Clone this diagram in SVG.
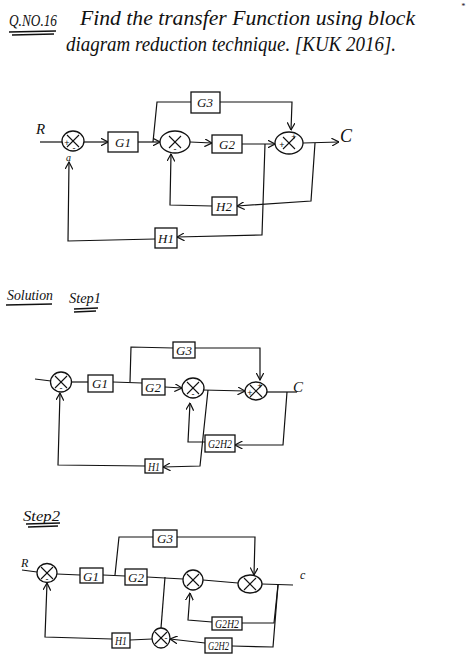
<svg xmlns="http://www.w3.org/2000/svg" width="474" height="657" viewBox="0 0 474 657">
<style>
.hw{font-family:"Liberation Serif","DejaVu Serif",serif;font-style:italic;fill:#111}
.lbl{font-family:"Liberation Serif","DejaVu Serif",serif;font-style:italic;fill:#111;font-size:13px;text-anchor:middle;dominant-baseline:central}
.sg{font-family:"Liberation Sans",sans-serif;fill:#111;font-size:9px;text-anchor:middle;dominant-baseline:central}
.box{fill:#fff;stroke:#111;stroke-width:1.3}
.sum{fill:#fff;stroke:#111;stroke-width:1.3}
.x{stroke:#111;stroke-width:1.1}
.w{fill:none;stroke:#111;stroke-width:1.2}
.ul{fill:none;stroke:#111;stroke-width:1.4}
</style>
<defs>
<marker id="ah" viewBox="0 0 8 8" refX="7.5" refY="4" markerWidth="8" markerHeight="8" markerUnits="userSpaceOnUse" orient="auto">
<path d="M0,0 L7.5,4 L0,8" fill="none" stroke="#111" stroke-width="1.2"/>
</marker>
<g id="xs"><line class="x" x1="-6" y1="-6" x2="6" y2="6"/><line class="x" x1="6" y1="-6" x2="-6" y2="6"/></g>
</defs>
<rect width="474" height="657" fill="#fff"/>

<!-- Title -->
<g id="title">
<text class="hw" x="9" y="26" font-size="17" textLength="48" lengthAdjust="spacingAndGlyphs">Q.NO.16</text>
<path class="ul" d="M9,32 L56,31 M12,35 L54,34"/>
<text class="hw" x="80" y="25" font-size="20" textLength="335" lengthAdjust="spacingAndGlyphs">Find the transfer Function using block</text>
<text class="hw" x="66" y="51" font-size="20" textLength="330" lengthAdjust="spacingAndGlyphs">diagram reduction technique. [KUK 2016].</text>
<text class="hw" x="461" y="9" font-size="8">*</text>
</g>

<!-- ===== Diagram 1 ===== -->
<g id="connectors1">
<polyline class="w" points="40,142 63,142"/>
<polyline class="w" points="84,142 108,142" marker-end="url(#ah)"/>
<polyline class="w" points="138,142 160,142" marker-end="url(#ah)"/>
<polyline class="w" points="153,142 157,102 191,102"/>
<polyline class="w" points="220,102 292,102 291,130" marker-end="url(#ah)"/>
<polyline class="w" points="190,142 212,143" marker-end="url(#ah)"/>
<polyline class="w" points="242,144 275,144" marker-end="url(#ah)"/>
<polyline class="w" points="265,144 262,235 177,237" marker-end="url(#ah)"/>
<polyline class="w" points="303,143 339,142" marker-end="url(#ah)"/>
<polyline class="w" points="315,143 311,201 237,206" marker-end="url(#ah)"/>
<polyline class="w" points="212,206 170,205 171,154" marker-end="url(#ah)"/>
<polyline class="w" points="155,239 68,241 69,162" marker-end="url(#ah)"/>
</g>
<g id="d1-R"><text class="hw" x="36" y="134" font-size="15">R</text></g>
<g id="d1-C"><text class="hw" x="340" y="142" font-size="18">C</text></g>
<g id="d1-S1"><ellipse class="sum" cx="73" cy="141" rx="11" ry="10"/><use href="#xs" x="73" y="141"/>
<text class="sg" x="67" y="143">+</text><text class="sg" x="74" y="148">-</text>
<text class="hw" x="66" y="161" font-size="10">a</text></g>
<g id="d1-G1"><rect class="box" x="108" y="132" width="30" height="20"/><text class="lbl" x="123" y="142">G1</text></g>
<g id="d1-S2"><ellipse class="sum" cx="175" cy="142" rx="15" ry="11"/><use href="#xs" x="175" y="142"/>
<text class="sg" x="175" y="149">-</text></g>
<g id="d1-G3"><rect class="box" x="191" y="92" width="29" height="21"/><text class="lbl" x="205" y="102">G3</text></g>
<g id="d1-G2"><rect class="box" x="212" y="135" width="30" height="18"/><text class="lbl" x="227" y="144">G2</text></g>
<g id="d1-S3"><ellipse class="sum" cx="289" cy="143" rx="14" ry="11"/><use href="#xs" x="289" y="143"/>
<text class="sg" x="282" y="145">+</text><text class="sg" x="294" y="137">+</text></g>
<g id="d1-H2"><rect class="box" x="212" y="197" width="25" height="18"/><text class="lbl" x="224" y="206" font-size="11">H2</text></g>
<g id="d1-H1"><rect class="box" x="155" y="228" width="22" height="20"/><text class="lbl" x="166" y="238">H1</text></g>

<!-- Headings -->
<g id="sol">
<text class="hw" x="7" y="300" font-size="14" textLength="46" lengthAdjust="spacingAndGlyphs">Solution</text>
<path class="ul" d="M6,305 L52,304"/>
<text class="hw" x="69" y="303" font-size="14" textLength="32" lengthAdjust="spacingAndGlyphs">Step1</text>
<path class="ul" d="M74,309 L98,308 M74,312 L96,311"/>
</g>

<!-- ===== Diagram 2 ===== -->
<g id="connectors2">
<polyline class="w" points="35,379 51,381"/>
<polyline class="w" points="72,382 88,382"/>
<polyline class="w" points="113,382 142,383"/>
<polyline class="w" points="130,382 131,347 173,348"/>
<polyline class="w" points="195,348 260,348 260,380" marker-end="url(#ah)"/>
<polyline class="w" points="165,387 182,388" marker-end="url(#ah)"/>
<polyline class="w" points="203,390 245,391" marker-end="url(#ah)"/>
<polyline class="w" points="208,390 200,466 163,467" marker-end="url(#ah)"/>
<polyline class="w" points="267,392 297,392"/>
<polyline class="w" points="287,392 283,445 235,445" marker-end="url(#ah)"/>
<polyline class="w" points="205,442 188,442 190,403" marker-end="url(#ah)"/>
<polyline class="w" points="145,466 58,465 60,393" marker-end="url(#ah)"/>
</g>
<g id="d2-C"><text class="hw" x="293" y="392" font-size="15">C</text></g>
<g id="d2-S1"><ellipse class="sum" cx="61" cy="382" rx="10.5" ry="10"/><use href="#xs" x="61" y="382"/><text class="sg" x="61" y="388">-</text></g>
<g id="d2-G1"><rect class="box" x="88" y="375" width="25" height="17"/><text class="lbl" x="100" y="383" font-size="11">G1</text></g>
<g id="d2-G3"><rect class="box" x="173" y="342" width="22" height="16"/><text class="lbl" x="184" y="350" font-size="11">G3</text></g>
<g id="d2-G2"><rect class="box" x="142" y="379" width="23" height="16"/><text class="lbl" x="153" y="387" font-size="11">G2</text></g>
<g id="d2-S2"><ellipse class="sum" cx="193" cy="388" rx="11" ry="10"/><use href="#xs" x="193" y="388"/><text class="sg" x="193" y="394">-</text></g>
<g id="d2-S3"><ellipse class="sum" cx="256" cy="391" rx="11" ry="9"/><use href="#xs" x="256" y="391"/>
<text class="sg" x="250" y="393">+</text><text class="sg" x="260" y="386">+</text></g>
<g id="d2-G2H2"><rect class="box" x="205" y="435" width="30" height="17"/><text class="lbl" x="220" y="443" font-size="10" textLength="24" lengthAdjust="spacingAndGlyphs">G2H2</text></g>
<g id="d2-H1"><rect class="box" x="145" y="459" width="18" height="14"/><text class="lbl" x="154" y="466" font-size="10" textLength="12" lengthAdjust="spacingAndGlyphs">H1</text></g>

<g id="step2">
<text class="hw" x="23" y="521" font-size="14" textLength="37" lengthAdjust="spacingAndGlyphs">Step2</text>
<path class="ul" d="M26,524 L60,523 M28,527 L58,526"/>
</g>

<!-- ===== Diagram 3 ===== -->
<g id="connectors3">
<polyline class="w" points="22,570 37,572"/>
<polyline class="w" points="57,574 80,575"/>
<polyline class="w" points="103,575 125,576"/>
<polyline class="w" points="115,575 119,537 153,537"/>
<polyline class="w" points="177,537 255,537 254,575" marker-end="url(#ah)"/>
<polyline class="w" points="147,577 183,579"/>
<polyline class="w" points="165,577 161,628"/>
<polyline class="w" points="203,580 238,583"/>
<polyline class="w" points="262,584 293,585"/>
<polyline class="w" points="278,585 274,623 242,623"/>
<polyline class="w" points="278,585 273,647 232,646"/>
<polyline class="w" points="212,622 188,620 190,593" marker-end="url(#ah)"/>
<polyline class="w" points="205,643 170,639" marker-end="url(#ah)"/>
<polyline class="w" points="152,639 130,640"/>
<polyline class="w" points="112,639 45,637 47,583" marker-end="url(#ah)"/>
</g>
<g id="d3-R"><text class="hw" x="21" y="567" font-size="12">R</text></g>
<g id="d3-C"><text class="hw" x="300" y="579" font-size="12">c</text></g>
<g id="d3-S1"><ellipse class="sum" cx="47" cy="573" rx="10" ry="9.5"/><use href="#xs" x="47" y="573"/><text class="sg" x="47" y="579">-</text></g>
<g id="d3-G1"><rect class="box" x="80" y="568" width="23" height="15"/><text class="lbl" x="91" y="576" font-size="10">G1</text></g>
<g id="d3-G3"><rect class="box" x="153" y="530" width="24" height="17"/><text class="lbl" x="165" y="538" font-size="10">G3</text></g>
<g id="d3-G2"><rect class="box" x="125" y="569" width="22" height="16"/><text class="lbl" x="136" y="577" font-size="10">G2</text></g>
<g id="d3-S2"><ellipse class="sum" cx="193" cy="580" rx="10" ry="10"/><use href="#xs" x="193" y="580"/></g>
<g id="d3-S3"><ellipse class="sum" cx="250" cy="584" rx="12" ry="9"/><use href="#xs" x="250" y="584"/></g>
<g id="d3-G2H2a"><rect class="box" x="212" y="617" width="30" height="13"/><text class="lbl" x="227" y="623" font-size="9" textLength="24" lengthAdjust="spacingAndGlyphs">G2H2</text></g>
<g id="d3-G2H2b"><rect class="box" x="205" y="638" width="27" height="15"/><text class="lbl" x="218.5" y="645" font-size="9" textLength="21" lengthAdjust="spacingAndGlyphs">G2H2</text></g>
<g id="d3-S4"><ellipse class="sum" cx="161" cy="638" rx="9" ry="10"/><use href="#xs" x="161" y="638"/><text class="sg" x="166" y="638">-</text></g>
<g id="d3-H1"><rect class="box" x="112" y="633" width="18" height="15"/><text class="lbl" x="121" y="640" font-size="10" textLength="12" lengthAdjust="spacingAndGlyphs">H1</text></g>
</svg>
